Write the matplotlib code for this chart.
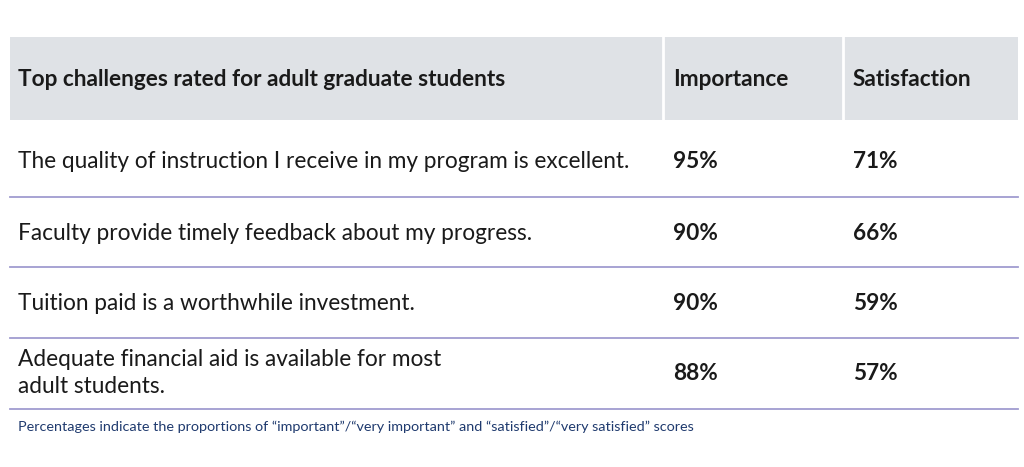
import matplotlib.pyplot as plt

# table content
header = ["Top challenges rated for adult graduate students", "Importance", "Satisfaction"]
statements = [
    "The quality of instruction I receive in my program is excellent.",
    "Faculty provide timely feedback about my progress.",
    "Tuition paid is a worthwhile investment.",
    "Adequate financial aid is available for most\nadult students.",
]
importance = ["95%", "90%", "90%", "88%"]
satisfaction = ["71%", "66%", "59%", "57%"]
note = ("Percentages indicate the proportions of \u201cimportant\u201d/\u201cvery important\u201d "
        "and \u201csatisfied\u201d/\u201cvery satisfied\u201d scores")

plt.rcParams['font.family'] = ['Lato', 'DejaVu Sans']

fig = plt.figure(figsize=(10.24, 4.67), dpi=100)
ax = fig.add_axes([0, 0, 1, 1])
ax.set_xlim(0, 1024)
ax.set_ylim(467, 0)
ax.axis('off')

# header band
ax.add_patch(plt.Rectangle((10, 37), 1008, 83, color='#dfe2e6', lw=0))
for x in (663, 843):
    ax.plot([x, x], [37, 120], color='white', lw=2)

col_x = [18, 673, 853]
fs = 16.3
for x, t in zip(col_x, header):
    ax.text(x, 79, t, fontsize=fs, fontweight='bold', color='#1a1a1a', va='center')

row_y = [162, 233, 303, 373]
sep_y = [197, 267, 338, 409]
for i, y in enumerate(row_y):
    ax.text(col_x[0], y, statements[i], fontsize=fs, color='#1a1a1a', va='center',
            linespacing=1.35)
    ax.text(col_x[1], y, importance[i], fontsize=fs, fontweight='bold', color='#1a1a1a', va='center')
    ax.text(col_x[2], y, satisfaction[i], fontsize=fs, fontweight='bold', color='#1a1a1a', va='center')
    ax.plot([10, 1018], [sep_y[i], sep_y[i]], color='#a09cd0', lw=1.3)

ax.text(18, 427, note, fontsize=10.4, color='#1f3a6e', va='center')

fig.savefig('out.png', dpi=100, facecolor='white')
